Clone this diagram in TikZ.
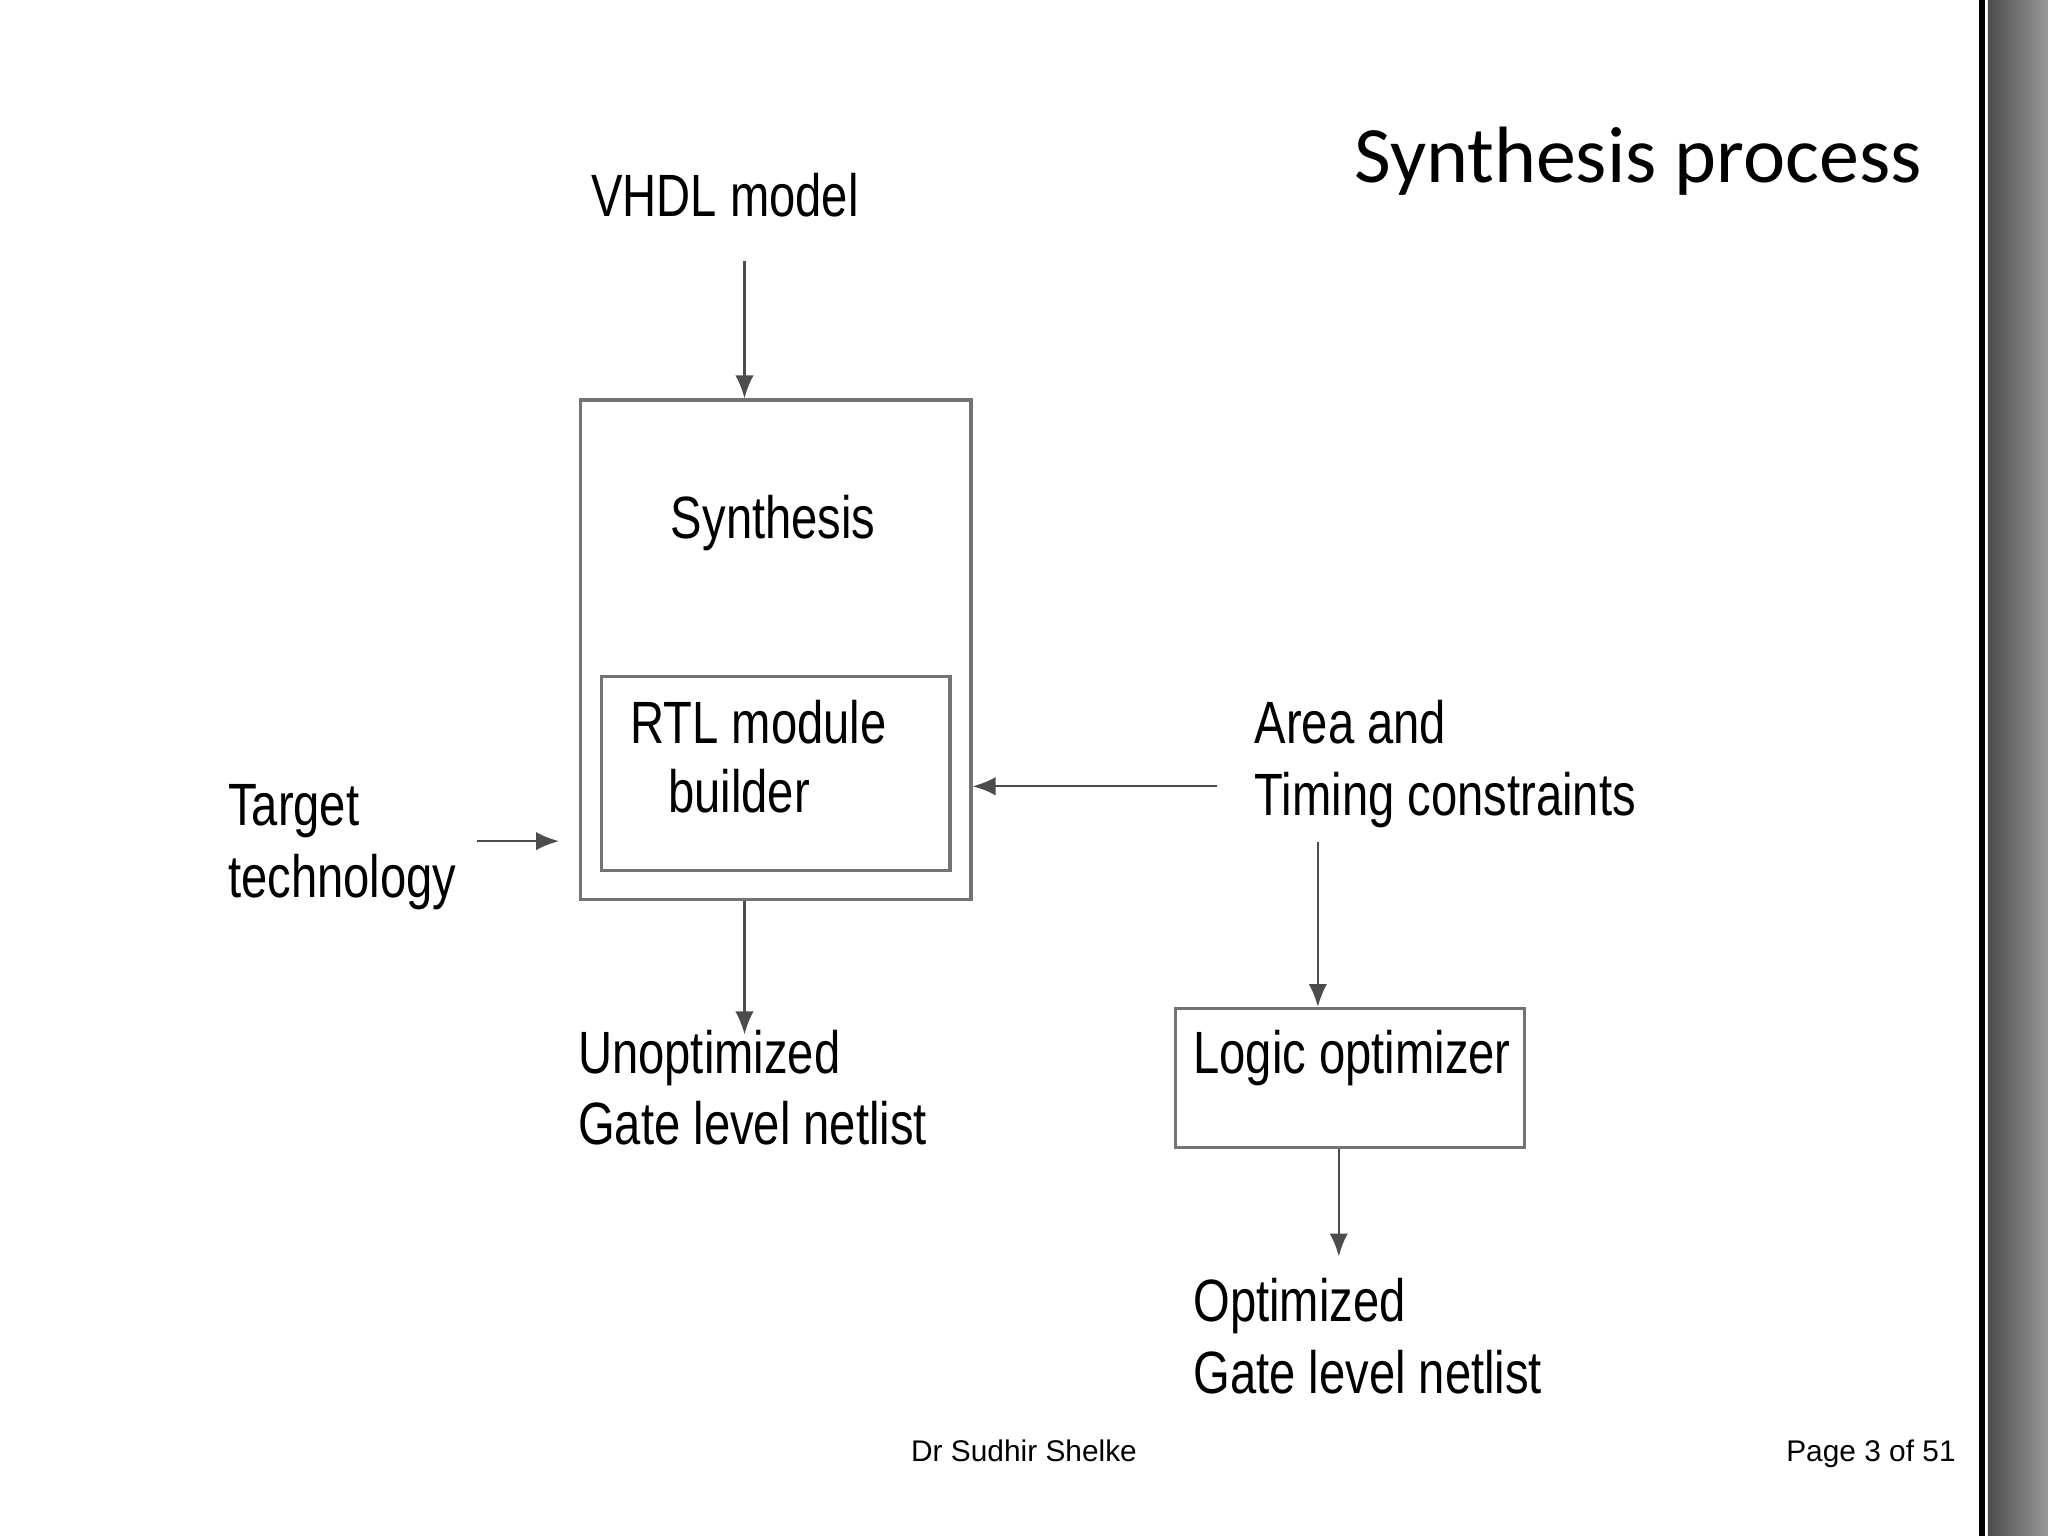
\documentclass[tikz,border=0pt]{standalone}
\usepackage{fontspec}
\setmainfont{Liberation Sans}
\newfontfamily\narrow{Liberation Sans}[FakeStretch=0.79]
\newfontfamily\titlef{Carlito}
\usetikzlibrary{arrows.meta}
\begin{document}
\begin{tikzpicture}[x=0.01cm,y=-0.01cm,
  lbl/.style={font=\narrow\fontsize{13pt}{15pt}\selectfont,inner sep=0},
  box/.style={draw=black!55,line width=0.7pt,inner sep=0},
  arr/.style={draw=black!70,line width=0.5pt,-{Latex[length=5pt,width=4pt]}}]
\useasboundingbox (0,0) rectangle (1568,1176);
\fill[white] (0,0) rectangle (1568,1176);
\shade[left color=black!70,right color=black!40] (1522,0) rectangle (1568,1176);
\fill[black] (1515,0) rectangle (1520,1176);
\node[font=\titlef\fontsize{17.4pt}{21pt}\selectfont,anchor=base east,inner sep=0] (title) at (1472,140) {Synthesis process};
\node[lbl,anchor=base] (vhdl) at (555,166) {VHDL model};
\node[box,minimum width=2.99cm,minimum height=3.82cm,anchor=north west] (outer) at (443,305) {};
\node[lbl,anchor=base] (syn) at (592,412) {Synthesis};
\node[box,minimum width=2.67cm,minimum height=1.48cm,anchor=north west] (inner) at (459,517) {};
\node[lbl,anchor=base west] (rtl1) at (482,569) {RTL module};
\node[lbl,anchor=base west] (rtl2) at (511,622) {builder};
\node[lbl,anchor=base west] (tt1) at (174,632) {Target};
\node[lbl,anchor=base west] (tt2) at (174,687) {technology};
\node[lbl,anchor=base west] (at1) at (960,569) {Area and};
\node[lbl,anchor=base west] (at2) at (960,624) {Timing constraints};
\node[box,minimum width=2.67cm,minimum height=1.06cm,anchor=north west] (lo) at (899,771) {};
\node[lbl,anchor=base west] (lot) at (913,822) {Logic optimizer};
\node[lbl,anchor=base west] (u1) at (442,822) {Unoptimized};
\node[lbl,anchor=base west] (u2) at (442,876) {Gate level netlist};
\node[lbl,anchor=base west] (o1) at (913,1012) {Optimized};
\node[lbl,anchor=base west] (o2) at (913,1067) {Gate level netlist};
\node[font=\fontsize{6.5pt}{8pt}\selectfont,anchor=base,inner sep=0] (f1) at (784,1119) {Dr Sudhir Shelke};
\node[font=\fontsize{6.5pt}{8pt}\selectfont,anchor=base east,inner sep=0] (f2) at (1498,1119) {Page 3 of 51};
\coordinate (a1) at (570,200);
\draw[arr] (a1) -- (a1 |- outer.north);
\coordinate (b1) at (365,644); \coordinate (b2) at (428,644);
\draw[arr] (b1) -- (b2);
\coordinate (c1) at (932,602);
\draw[arr] (c1) -- (c1 -| outer.east);
\coordinate (d1) at (1009,645);
\draw[arr] (d1) -- (d1 |- lo.north);
\coordinate (e1) at (570,687); \coordinate (e2) at (570,792);
\draw[arr] (e1 |- outer.south) -- (e2);
\coordinate (g1) at (1025,877); \coordinate (g2) at (1025,962);
\draw[arr] (g1 |- lo.south) -- (g2);
\end{tikzpicture}
\end{document}
